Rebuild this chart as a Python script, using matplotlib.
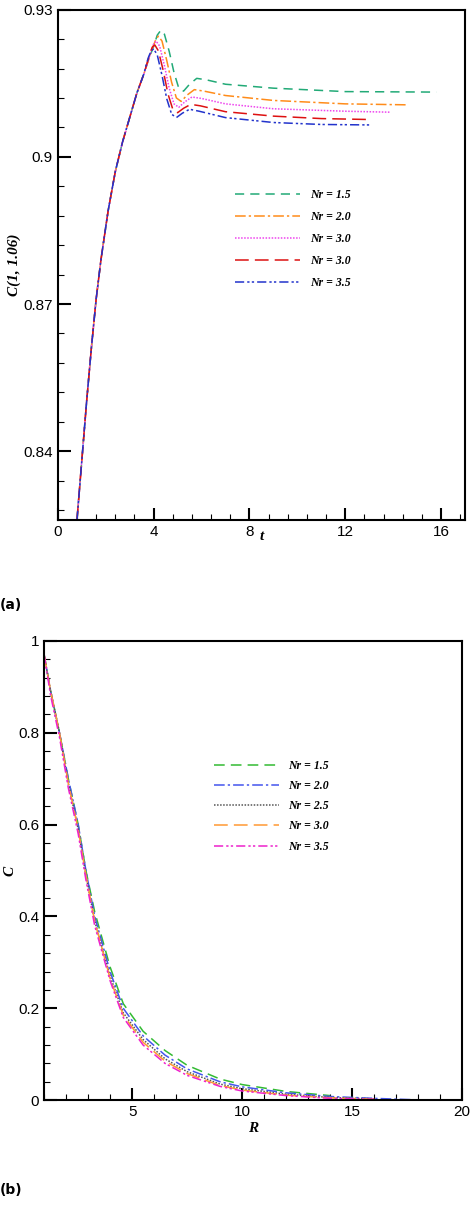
import matplotlib
matplotlib.use('Agg')
import matplotlib.pyplot as plt
from matplotlib.ticker import MultipleLocator

# panel (a): common rising branch
t_rise = [0.8, 1.0, 1.2, 1.4, 1.6, 1.8, 2.1, 2.4, 2.7, 3.0, 3.3, 3.6]
c_rise = [0.826, 0.838, 0.850, 0.861, 0.871, 0.879, 0.889, 0.897, 0.903, 0.908, 0.913, 0.917]

labels_a = ['Nr = 1.5', 'Nr = 2.0', 'Nr = 3.0', 'Nr = 3.0', 'Nr = 3.5']
tail_t = [
    [3.8, 4.0, 4.15, 4.3, 4.45, 4.65, 4.85, 5.05, 5.25, 5.5, 5.8, 6.2, 7.0, 9.0, 12.0, 15.8],
    [3.8, 3.95, 4.1, 4.2, 4.35, 4.55, 4.75, 4.95, 5.15, 5.4, 5.7, 6.1, 7.0, 9.0, 12.0, 14.6],
    [3.8, 3.9, 4.0, 4.1, 4.25, 4.45, 4.65, 4.85, 5.05, 5.3, 5.6, 6.0, 7.0, 9.0, 12.0, 13.9],
    [3.75, 3.85, 3.95, 4.05, 4.2, 4.4, 4.6, 4.8, 5.0, 5.25, 5.55, 5.95, 7.0, 9.0, 11.0, 13.1],
    [3.7, 3.8, 3.9, 4.0, 4.15, 4.35, 4.55, 4.75, 4.95, 5.2, 5.5, 5.9, 7.0, 9.0, 11.0, 13.1],
]
tail_c = [
    [0.920, 0.9225, 0.9248, 0.9258, 0.9250, 0.9215, 0.9172, 0.9140, 0.9134, 0.9148, 0.9160, 0.9157, 0.9148, 0.9140, 0.9133, 0.9132],
    [0.920, 0.9222, 0.9240, 0.9246, 0.9236, 0.9196, 0.9152, 0.9120, 0.9113, 0.9126, 0.9137, 0.9134, 0.9125, 0.9115, 0.9108, 0.9106],
    [0.920, 0.9216, 0.9230, 0.9236, 0.9226, 0.9186, 0.9140, 0.9108, 0.9101, 0.9112, 0.9122, 0.9119, 0.9108, 0.9098, 0.9093, 0.9091],
    [0.9195, 0.9212, 0.9224, 0.9228, 0.9216, 0.9176, 0.9128, 0.9097, 0.9090, 0.9099, 0.9107, 0.9104, 0.9092, 0.9083, 0.9078, 0.9076],
    [0.919, 0.9205, 0.9216, 0.9220, 0.9208, 0.9166, 0.9118, 0.9087, 0.9080, 0.9089, 0.9097, 0.9093, 0.9080, 0.9070, 0.9066, 0.9065],
]
colors_a = ['#22aa77', '#ff8c1a', '#ee44ee', '#dd1111', '#2233cc']
styles_a = [(0, (6, 4)), (0, (7, 2, 1.5, 2)), (0, (1, 1)), (0, (9, 4)), (0, (6, 2, 1.5, 1.5, 1.5, 2))]

# panel (b)
R = [1.0, 1.3, 1.7, 2.1, 2.55, 2.9, 3.3, 4.0, 4.6, 5.5, 6.5, 7.5, 9.0, 10.0, 12.0, 14.0, 16.0, 17.8]
labels_b = ['Nr = 1.5', 'Nr = 2.0', 'Nr = 2.5', 'Nr = 3.0', 'Nr = 3.5']
C_b = [
    [0.97, 0.89, 0.80, 0.70, 0.60, 0.50, 0.41, 0.29, 0.21, 0.150, 0.108, 0.076, 0.046, 0.034, 0.019, 0.010, 0.005, 0.002],
    [0.97, 0.89, 0.80, 0.70, 0.60, 0.50, 0.40, 0.28, 0.20, 0.140, 0.098, 0.068, 0.040, 0.029, 0.016, 0.008, 0.004, 0.001],
    [0.97, 0.89, 0.80, 0.69, 0.59, 0.49, 0.39, 0.27, 0.19, 0.132, 0.090, 0.062, 0.035, 0.025, 0.013, 0.006, 0.003, 0.001],
    [0.97, 0.89, 0.80, 0.69, 0.59, 0.49, 0.39, 0.265, 0.185, 0.126, 0.085, 0.058, 0.032, 0.022, 0.011, 0.005, 0.002, 0.001],
    [0.97, 0.88, 0.79, 0.68, 0.58, 0.48, 0.38, 0.26, 0.18, 0.120, 0.080, 0.054, 0.030, 0.020, 0.010, 0.004, 0.002, 0.001],
]
R_end = [15.5, 17.8, 17.0, 16.5, 16.5]
colors_b = ['#33bb33', '#4455ee', '#555555', '#ff9933', '#ee22cc']
styles_b = [(0, (7, 4)), (0, (7, 2, 1.5, 2)), (0, (1, 1)), (0, (9, 4)), (0, (6, 2, 1.5, 1.5, 1.5, 2))]

serif = {'family': 'Liberation Serif', 'weight': 'bold', 'style': 'italic'}
leg_font = {'family': 'Liberation Serif', 'weight': 'bold', 'style': 'italic', 'size': 8.5}
plt.rcParams['font.family'] = 'Liberation Sans'

fig = plt.figure(figsize=(4.74, 12.09), dpi=100)


def style_axes(ax):
    for s in ax.spines.values():
        s.set_linewidth(1.5)
    ax.tick_params(which='both', direction='in', top=False, right=False, labelsize=11)
    ax.tick_params(which='major', length=9, width=1.5)
    ax.tick_params(which='minor', length=4, width=0.8)


ax = fig.add_axes([0.122, 0.570, 0.859, 0.422])
for i in range(5):
    ax.plot(t_rise + tail_t[i], c_rise + tail_c[i], color=colors_a[i],
            linestyle=styles_a[i], lw=1.1, label=labels_a[i])
ax.set_xlim(0, 17)
ax.set_ylim(0.826, 0.93)
ax.set_xticks([0, 4, 8, 12, 16])
ax.set_yticks([0.84, 0.87, 0.9, 0.93])
ax.set_yticklabels(['0.84', '0.87', '0.9', '0.93'])
ax.xaxis.set_minor_locator(MultipleLocator(0.8))
ax.yaxis.set_minor_locator(MultipleLocator(0.006))
style_axes(ax)
ax.set_ylabel('C(1, 1.06)', fontdict=serif, fontsize=11, labelpad=2)
ax.set_xlabel('t', fontdict=serif, fontsize=11, labelpad=-6)
leg = ax.legend(loc='center left', bbox_to_anchor=(0.41, 0.55), frameon=False,
                handlelength=5.5, labelspacing=0.85, prop=leg_font)
fig.text(0.0, 1209 - 605, '(a)', transform=None, fontsize=10, fontweight='bold',
         family='DejaVu Sans', va='center')

bx = fig.add_axes([0.093, 0.090, 0.882, 0.380])
for i in range(5):
    xs = [r for r in R if r <= R_end[i]]
    bx.plot(xs, C_b[i][:len(xs)], color=colors_b[i], linestyle=styles_b[i],
            lw=1.1, label=labels_b[i])
bx.set_xlim(1, 20)
bx.set_ylim(0, 1)
bx.set_xticks([5, 10, 15, 20])
bx.set_yticks([0, 0.2, 0.4, 0.6, 0.8, 1])
bx.set_yticklabels(['0', '0.2', '0.4', '0.6', '0.8', '1'])
bx.xaxis.set_minor_locator(MultipleLocator(1))
bx.yaxis.set_minor_locator(MultipleLocator(0.04))
style_axes(bx)
bx.set_ylabel('C', fontdict=serif, fontsize=11, labelpad=1)
bx.set_xlabel('R', fontdict=serif, fontsize=11, labelpad=2)
bx.legend(loc='center left', bbox_to_anchor=(0.38, 0.64), frameon=False,
          handlelength=5.5, labelspacing=0.7, prop=leg_font)
fig.text(0.0, 1209 - 1190, '(b)', transform=None, fontsize=10, fontweight='bold',
         family='DejaVu Sans', va='center')

fig.savefig('out.png', dpi=100)
